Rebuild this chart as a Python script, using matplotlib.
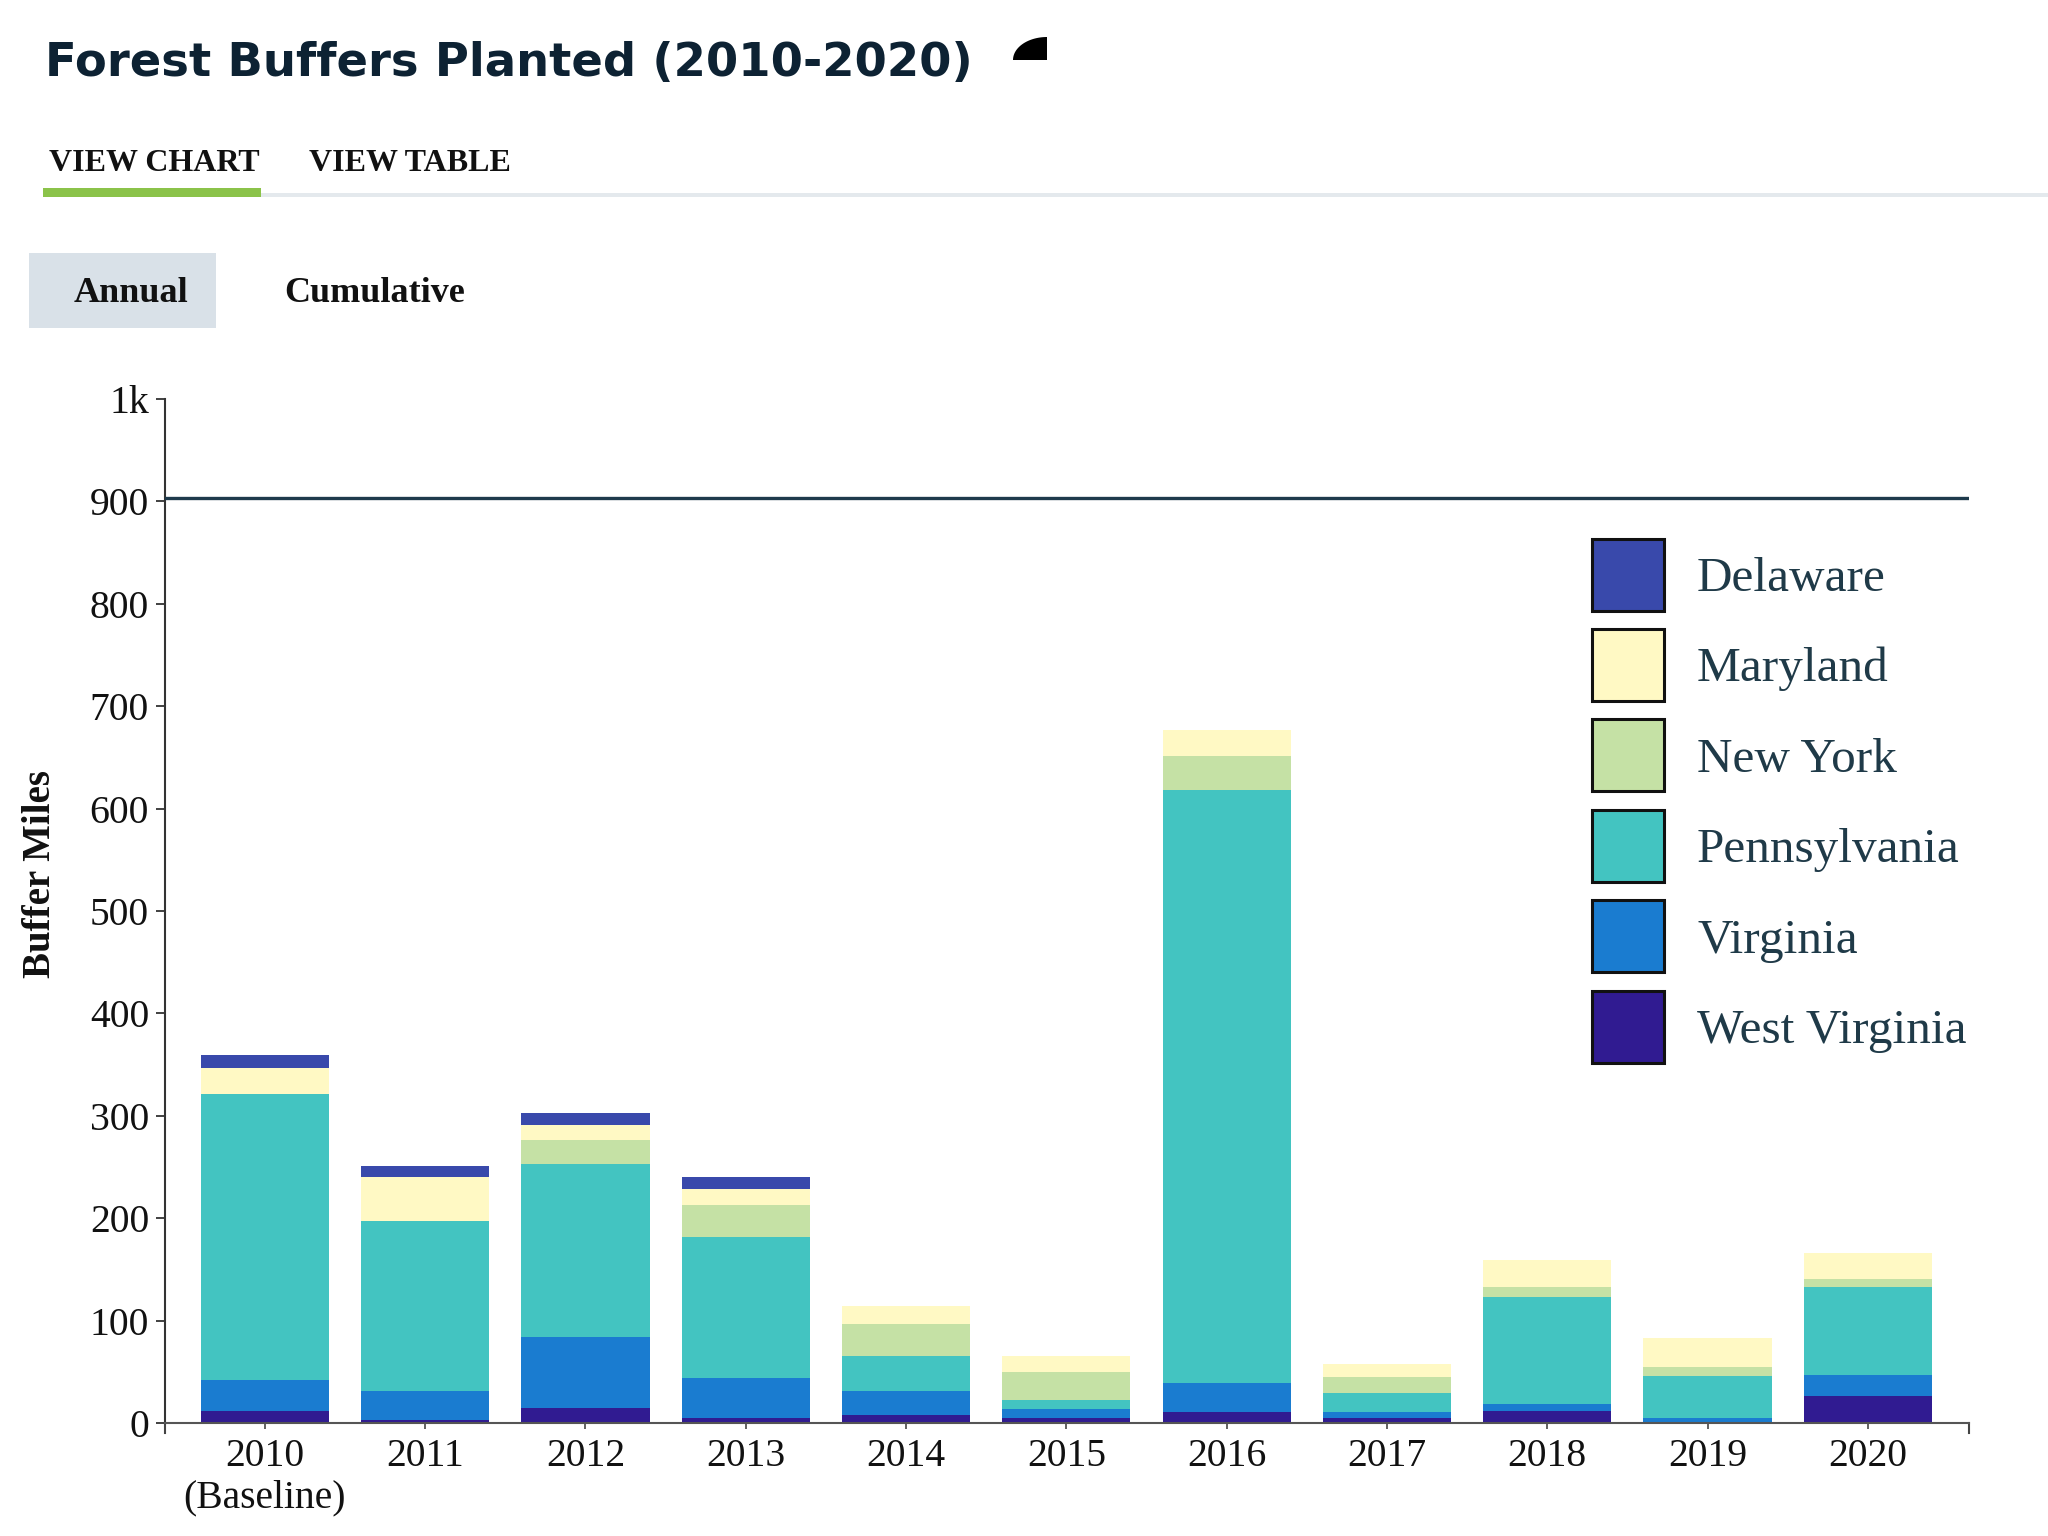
import matplotlib
matplotlib.use('Agg')
import matplotlib.pyplot as plt
from matplotlib.patches import Rectangle, Polygon
from matplotlib.lines import Line2D
import numpy as np

# ---------------- data ----------------
years = ['2010\n(Baseline)', '2011', '2012', '2013', '2014', '2015',
         '2016', '2017', '2018', '2019', '2020']
# stack order bottom -> top
west_virginia = [12, 3, 15, 5, 8, 5, 11, 5, 12, 0, 26]
virginia      = [30, 28, 69, 39, 23, 9, 28, 6, 7, 5, 21]
pennsylvania  = [279, 166, 169, 138, 34, 8, 579, 18, 104, 41, 86]
new_york      = [0, 0, 23, 31, 32, 28, 33, 16, 10, 9, 8]
maryland      = [26, 43, 15, 16, 17, 15, 26, 13, 26, 28, 25]
delaware      = [12, 11, 12, 11, 0, 0, 0, 0, 0, 0, 0]
target = 903
y_ticks = [0, 100, 200, 300, 400, 500, 600, 700, 800, 900, 1000]
y_tick_labels = ['0', '100', '200', '300', '400', '500', '600', '700', '800', '900', '1k']

stack_names = ['West Virginia', 'Virginia', 'Pennsylvania', 'New York', 'Maryland', 'Delaware']
stack_values = [west_virginia, virginia, pennsylvania, new_york, maryland, delaware]
colors = {
    'Delaware': '#3949AB',
    'Maryland': '#FFF9C4',
    'New York': '#C5E1A5',
    'Pennsylvania': '#43C4C1',
    'Virginia': '#1A7CD0',
    'West Virginia': '#301B91',
}
legend_order = ['Delaware', 'Maryland', 'New York', 'Pennsylvania', 'Virginia', 'West Virginia']

# ---------------- figure ----------------
W, H = 2048, 1536
fig = plt.figure(figsize=(W / 100, H / 100), dpi=100)
fig.patch.set_facecolor('white')

def fx(px):
    return px / W

def fy(py):
    return 1 - py / H

SERIF = ['Liberation Serif', 'DejaVu Serif']

# Title
fig.text(fx(45), fy(76), 'Forest Buffers Planted (2010-2020)', fontsize=33.5,
         fontweight='bold', family='DejaVu Sans', color='#0D2233', va='baseline', ha='left')
# small icon (quarter ellipse)
t = np.linspace(np.pi / 2, np.pi, 30)
cx, cy, rx, ry = 1047, 60, 34, 23
pts = [(fx(cx + rx * np.cos(a)), fy(cy - ry * np.sin(a))) for a in t] + [(fx(cx), fy(cy))]
fig.patches.append(Polygon(pts, closed=True, facecolor='black', edgecolor='none',
                           transform=fig.transFigure, figure=fig))

# Tabs
fig.text(fx(49), fy(171), 'VIEW CHART', fontsize=23, fontweight='bold', family=SERIF,
         color='#111111', va='baseline', ha='left')
fig.text(fx(309), fy(171), 'VIEW TABLE', fontsize=23, fontweight='bold', family=SERIF,
         color='#111111', va='baseline', ha='left')
fig.patches.append(Rectangle((fx(261), fy(197)), fx(2048) - fx(261), 4 / H,
                             facecolor='#E4E9ED', edgecolor='none', transform=fig.transFigure, figure=fig))
fig.patches.append(Rectangle((fx(43), fy(197)), fx(261) - fx(43), 9 / H,
                             facecolor='#8BC34A', edgecolor='none', transform=fig.transFigure, figure=fig))

# Annual / Cumulative toggle
fig.patches.append(Rectangle((fx(29), fy(328)), fx(216) - fx(29), 75 / H,
                             facecolor='#D9E1E8', edgecolor='none', transform=fig.transFigure, figure=fig))
fig.text(fx(131), fy(302), 'Annual', fontsize=26, fontweight='bold', family=SERIF,
         color='#111111', va='baseline', ha='center')
fig.text(fx(284), fy(302), 'Cumulative', fontsize=26, fontweight='bold', family=SERIF,
         color='#111111', va='baseline', ha='left')

# ---------------- axes ----------------
left, right, top, bottom = 165, 1969, 399, 1423
ax = fig.add_axes([fx(left), fy(bottom), fx(right) - fx(left), (bottom - top) / H])
x = np.arange(len(years))
base = np.zeros(len(years))
for name, vals in zip(stack_names, stack_values):
    v = np.array(vals, dtype=float)
    ax.bar(x, v, bottom=base, width=0.8, color=colors[name], edgecolor='none', linewidth=0)
    base += v

ax.axhline(target, color='#1E3A4C', linewidth=2.4, zorder=3)

ax.set_xlim(-0.623, len(years) - 1 + 0.631)
ax.set_ylim(0, 1000)
ax.set_yticks(y_ticks)
ax.set_yticklabels(y_tick_labels)
ax.set_xticks(x)
ax.set_xticklabels(years)

for s in ['top', 'right']:
    ax.spines[s].set_visible(False)
ax.spines['left'].set_color('#333333')
ax.spines['bottom'].set_color('#555555')
ax.spines['left'].set_linewidth(1.5)
ax.spines['bottom'].set_linewidth(1.5)

ax.tick_params(axis='y', length=6.5, width=1.3, color='#333333', pad=5, labelsize=28.5)
ax.tick_params(axis='x', length=4, width=1.3, color='#555555', pad=7, labelsize=28.5)
for lab in ax.get_xticklabels() + ax.get_yticklabels():
    lab.set_family(SERIF)
    lab.set_color('#111111')
for lab in ax.get_xticklabels():
    lab.set_linespacing(1.15)

ax.set_ylabel('Buffer Miles', fontsize=28, fontweight='bold', family=SERIF, color='#111111')
ax.yaxis.set_label_coords((59 - left) / (right - left), (bottom - 874) / (bottom - top))

# outer ticks of the x domain
for xa in (0, 1):
    ax.add_line(Line2D([xa, xa], [0, -10 / (bottom - top)], transform=ax.transAxes,
                       color='#444444', linewidth=1.5, clip_on=False))

# ---------------- legend ----------------
box = 72
lx = 1592
for i, name in enumerate(legend_order):
    cyc = 574.5 + i * 90.4
    fig.patches.append(Rectangle((fx(lx), fy(cyc + box / 2)), box / W, box / H,
                                 facecolor=colors[name], edgecolor='#111111', linewidth=2.2,
                                 transform=fig.transFigure, figure=fig))
    fig.text(fx(1697), fy(cyc + 16.5), name, fontsize=35.5, family=SERIF,
             color='#1F3A48', va='baseline', ha='left')

fig.savefig('out.png', dpi=100, facecolor='white')
